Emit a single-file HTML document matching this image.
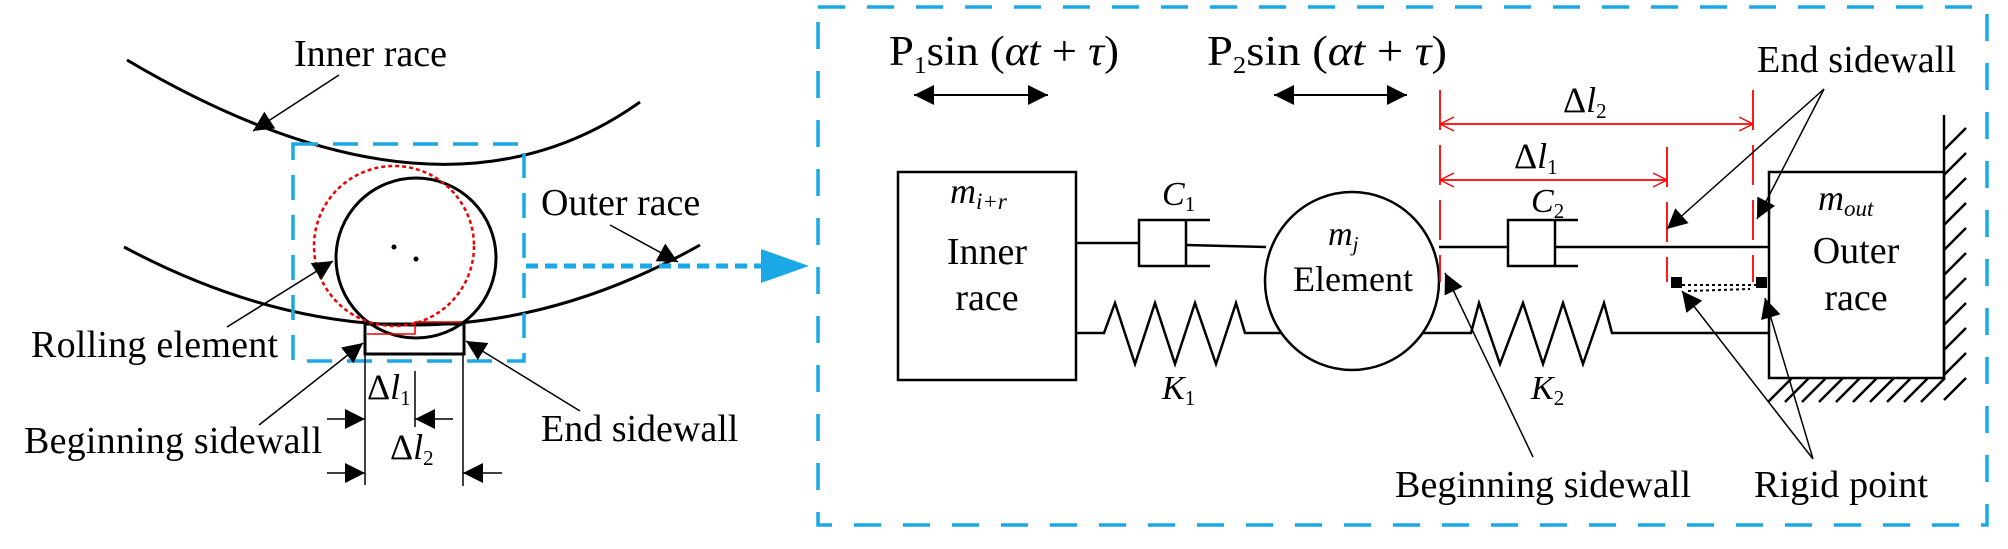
<!DOCTYPE html>
<html><head><meta charset="utf-8"><style>
html,body{margin:0;padding:0;background:#fff;}
svg{display:block;}
text{font-family:"Liberation Serif",serif;fill:#000;}
.m{font-style:italic;}
</style></head><body>
<svg width="2008" height="549" viewBox="0 0 2008 549" xmlns="http://www.w3.org/2000/svg">
<defs>
<marker id="ab" viewBox="0 0 10 10" refX="10" refY="5" markerWidth="22" markerHeight="20" markerUnits="userSpaceOnUse" orient="auto-start-reverse"><path d="M0,0 L10,5 L0,10 z" fill="#000"/></marker>
<marker id="ar" viewBox="0 0 10 10" refX="10" refY="5" markerWidth="14" markerHeight="22" markerUnits="userSpaceOnUse" orient="auto-start-reverse"><path d="M0,0 L10,5 L0,10" fill="none" stroke="#f00" stroke-width="1"/></marker>
</defs>
<g fill="none" stroke="#000" stroke-width="3">
<path d="M127,60 Q440,245 640,102"/>
<path d="M124,247 Q418,404 700,245"/>
<circle cx="416" cy="258" r="80"/>
<rect x="365" y="324" width="99" height="30"/>
</g>
<circle cx="394" cy="246" r="80" fill="none" stroke="#e00" stroke-width="2.5" stroke-dasharray="4,3"/>
<path d="M367,334 H415 V322 H462" fill="none" stroke="#e00" stroke-width="1.5"/>
<circle cx="394" cy="247" r="2.5"/><circle cx="416" cy="259" r="2.5"/>
<rect x="293" y="144" width="231" height="217" fill="none" stroke="#1aa9e6" stroke-width="3.5" stroke-dasharray="25,15"/>
<g stroke="#000" stroke-width="1.5" fill="none">
<line x1="339" y1="75" x2="253" y2="131" marker-end="url(#ab)"/>
<line x1="610" y1="225" x2="678" y2="262" marker-end="url(#ab)"/>
<line x1="227" y1="327" x2="333" y2="261" marker-end="url(#ab)"/>
<line x1="259" y1="425" x2="363" y2="343" marker-end="url(#ab)"/>
<line x1="580" y1="411" x2="466" y2="341" marker-end="url(#ab)"/>
<line x1="365" y1="354" x2="365" y2="485"/>
<line x1="415" y1="371" x2="415" y2="427"/>
<line x1="463" y1="354" x2="463" y2="486"/>
<line x1="327" y1="419" x2="365" y2="419" marker-end="url(#ab)"/>
<line x1="453" y1="419" x2="415" y2="419" marker-end="url(#ab)"/>
<line x1="327" y1="473" x2="365" y2="473" marker-end="url(#ab)"/>
<line x1="502" y1="473" x2="463" y2="473" marker-end="url(#ab)"/>
</g>
<text x="294" y="66" font-size="38" textLength="153">Inner race</text>
<text x="541" y="215" font-size="38">Outer race</text>
<text x="31" y="357" font-size="38" textLength="247">Rolling element</text>
<text x="24" y="453" font-size="38" textLength="298">Beginning sidewall</text>
<text x="541" y="441" font-size="38">End sidewall</text>
<text x="367" y="399" font-size="36">Δ<tspan class="m">l</tspan><tspan font-size="21" dy="6">1</tspan></text>
<text x="390" y="459" font-size="36">Δ<tspan class="m">l</tspan><tspan font-size="21" dy="6">2</tspan></text>
<line x1="526" y1="266" x2="762" y2="266" stroke="#1aa9e6" stroke-width="5" stroke-dasharray="12,7"/>
<path d="M761,249 L809,266 L761,283 z" fill="#1aa9e6"/>
<rect x="818" y="7" width="1169" height="518" fill="none" stroke="#1aa9e6" stroke-width="3.5" stroke-dasharray="27,22"/>
<text x="889" y="65" font-size="42" textLength="230" lengthAdjust="spacingAndGlyphs">P<tspan font-size="24" dy="8">1</tspan><tspan dy="-8">sin (</tspan><tspan class="m">αt</tspan> + <tspan class="m">τ</tspan>)</text>
<text x="1207" y="65" font-size="42" textLength="240" lengthAdjust="spacingAndGlyphs">P<tspan font-size="24" dy="8">2</tspan><tspan dy="-8">sin (</tspan><tspan class="m">αt</tspan> + <tspan class="m">τ</tspan>)</text>
<g stroke="#000" stroke-width="2">
<line x1="914" y1="95" x2="1048" y2="95" marker-start="url(#ab)" marker-end="url(#ab)"/>
<line x1="1274" y1="95" x2="1407" y2="95" marker-start="url(#ab)" marker-end="url(#ab)"/>
</g>
<g fill="none" stroke="#000" stroke-width="2.5">
<rect x="898" y="172" width="178" height="208"/>
<line x1="1076" y1="243" x2="1139" y2="243"/>
<path d="M1210,220 H1139 V266 H1210"/>
<line x1="1186" y1="220" x2="1186" y2="266"/>
<line x1="1186" y1="245" x2="1266" y2="247"/>
<polyline points="1076,333 1104,333 1115,303 1135,364 1155,303 1175,364 1195,303 1216,364 1236,303 1245,333 1282,333"/>
<ellipse cx="1352" cy="281" rx="87" ry="89"/>
<line x1="1439" y1="247" x2="1508" y2="247"/>
<path d="M1578,220 H1508 V266 H1578"/>
<line x1="1555" y1="220" x2="1555" y2="266"/>
<line x1="1555" y1="247" x2="1769" y2="247"/>
<polyline points="1423,333 1471,333 1479,303 1500,364 1523,303 1543,364 1563,303 1583,364 1604,303 1612,333 1769,333"/>
<rect x="1769" y="172" width="175" height="206"/>
<line x1="1944" y1="115" x2="1944" y2="378"/>
</g>
<g stroke="#000" stroke-width="2.5">
<path d="M1944,150 l22,-22 M1944,175 l22,-22 M1944,200 l22,-22 M1944,225 l22,-22 M1944,250 l22,-22 M1944,275 l22,-22 M1944,300 l22,-22 M1944,325 l22,-22 M1944,350 l22,-22 M1944,375 l22,-22 M1944,400 l22,-22"/>
<path d="M1768,402 l24,-24 M1785,402 l24,-24 M1802,402 l24,-24 M1819,402 l24,-24 M1836,402 l24,-24 M1853,402 l24,-24 M1870,402 l24,-24 M1887,402 l24,-24 M1904,402 l24,-24 M1921,402 l24,-24"/>
</g>
<g stroke="#f00" stroke-width="1.8" fill="none">
<line x1="1440" y1="90" x2="1440" y2="282" stroke-dasharray="40,15"/>
<line x1="1667" y1="147" x2="1667" y2="282" stroke-dasharray="40,15"/>
<line x1="1753" y1="90" x2="1753" y2="282" stroke-dasharray="40,15"/>
<line x1="1440" y1="124" x2="1753" y2="124" marker-start="url(#ar)" marker-end="url(#ar)"/>
<line x1="1440" y1="180" x2="1667" y2="180" marker-start="url(#ar)" marker-end="url(#ar)"/>
</g>
<text x="1563" y="112" font-size="36">Δ<tspan class="m">l</tspan><tspan font-size="21" dy="6">2</tspan></text>
<text x="1514" y="168" font-size="36">Δ<tspan class="m">l</tspan><tspan font-size="21" dy="6">1</tspan></text>
<rect x="1671" y="277" width="11" height="11"/>
<rect x="1756" y="277" width="11" height="11"/>
<line x1="1682" y1="285" x2="1756" y2="285" stroke="#000" stroke-width="2" stroke-dasharray="3,3"/>
<line x1="1688" y1="291" x2="1750" y2="289" stroke="#000" stroke-width="2" stroke-dasharray="3,3"/>
<g stroke="#000" stroke-width="1.5">
<line x1="1824" y1="89" x2="1667" y2="229" marker-end="url(#ab)"/>
<line x1="1824" y1="89" x2="1757" y2="219" marker-end="url(#ab)"/>
<line x1="1533" y1="457" x2="1445" y2="273" marker-end="url(#ab)"/>
<line x1="1813" y1="459" x2="1682" y2="291" marker-end="url(#ab)"/>
<line x1="1813" y1="459" x2="1765" y2="298" marker-end="url(#ab)"/>
</g>
<text x="950" y="203" font-size="36" class="m">m<tspan font-size="23" dy="6">i+r</tspan></text>
<text x="987" y="264" font-size="38" text-anchor="middle">Inner</text>
<text x="987" y="310" font-size="38" text-anchor="middle">race</text>
<text x="1162" y="205" font-size="34" class="m">C<tspan font-size="21" dy="6" font-style="normal">1</tspan></text>
<text x="1162" y="399" font-size="34" class="m">K<tspan font-size="21" dy="6" font-style="normal">1</tspan></text>
<text x="1328" y="245" font-size="34" class="m">m<tspan font-size="21" dy="6">j</tspan></text>
<text x="1353" y="291" font-size="36" text-anchor="middle">Element</text>
<text x="1531" y="212" font-size="34" class="m">C<tspan font-size="21" dy="6" font-style="normal">2</tspan></text>
<text x="1531" y="399" font-size="34" class="m">K<tspan font-size="21" dy="6" font-style="normal">2</tspan></text>
<text x="1818" y="210" font-size="36" class="m">m<tspan font-size="23" dy="6">out</tspan></text>
<text x="1856" y="263" font-size="38" text-anchor="middle">Outer</text>
<text x="1856" y="310" font-size="38" text-anchor="middle">race</text>
<text x="1757" y="72" font-size="38" textLength="199">End sidewall</text>
<text x="1395" y="497" font-size="38" textLength="296">Beginning sidewall</text>
<text x="1754" y="497" font-size="38" textLength="174">Rigid point</text>
</svg>
</body></html>
